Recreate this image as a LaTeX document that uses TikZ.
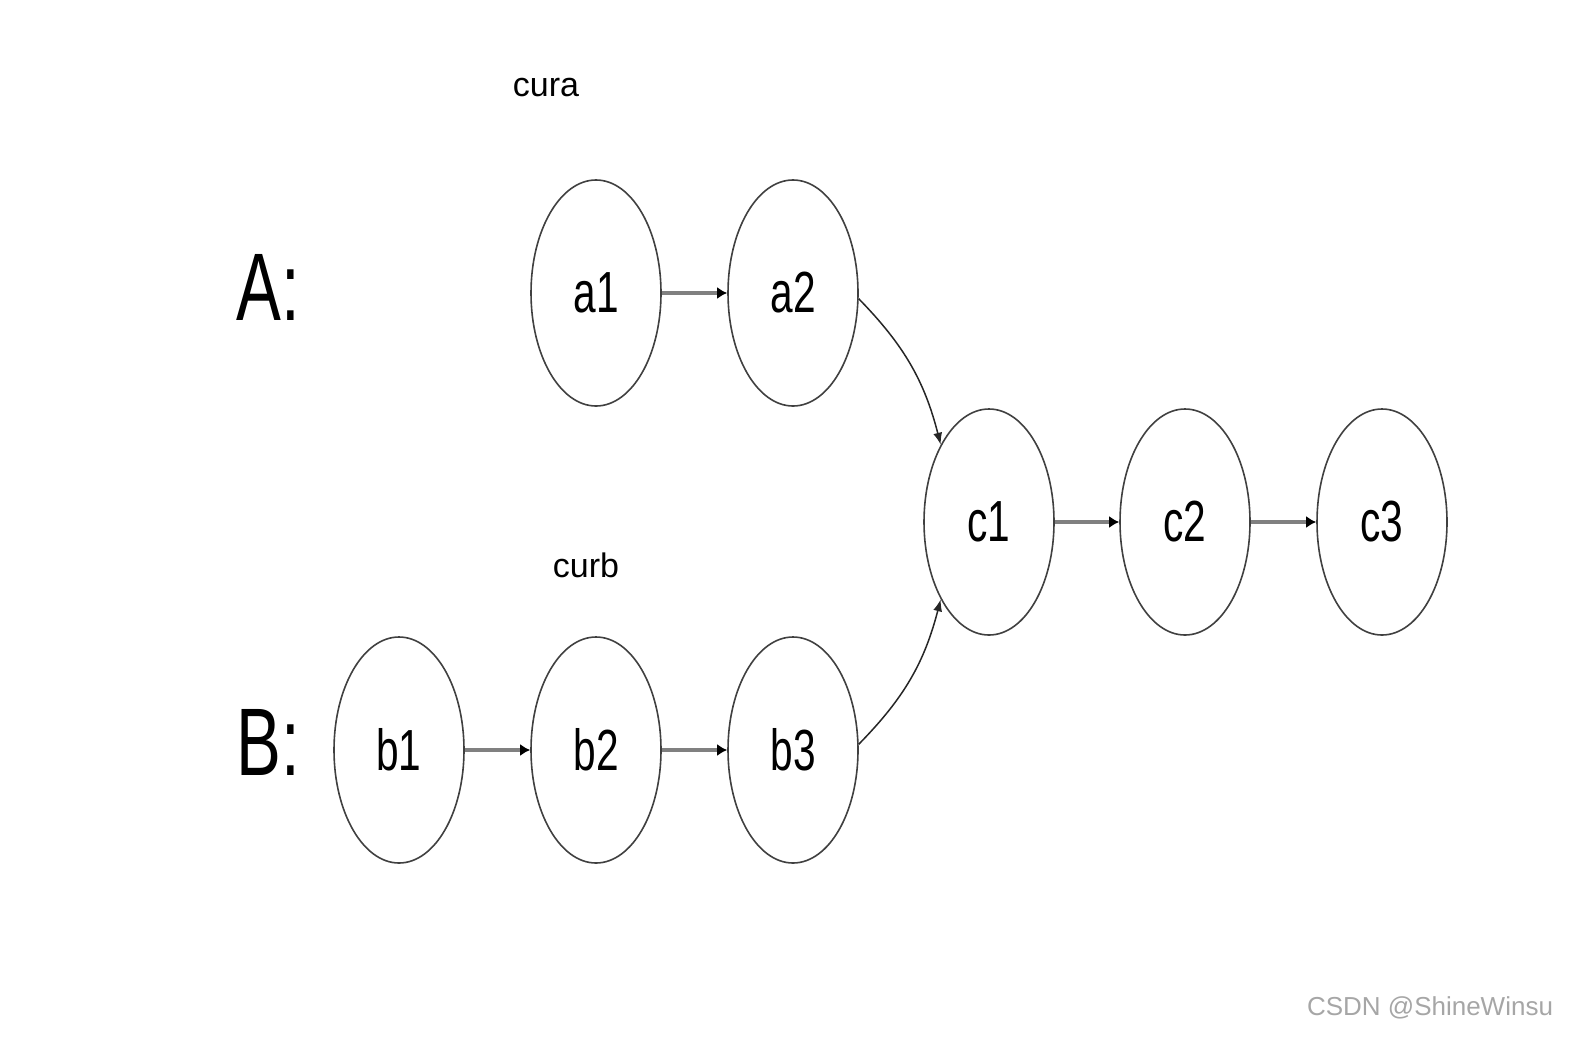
\documentclass[tikz,border=0pt]{standalone}
\usepackage{fontspec}
\setmainfont{Liberation Sans}
\usetikzlibrary{shapes.geometric,arrows.meta}
\begin{document}
\begin{tikzpicture}[x=1pt,y=-1pt,
  st/.style={ellipse,draw=black!75,line width=1.6pt,minimum width=130pt,minimum height=226pt,inner sep=0pt,
    font=\fontsize{58}{60}\selectfont,xscale=1},
  lab/.style={font=\fontsize{34}{36}\selectfont},
  big/.style={font=\fontsize{96}{96}\selectfont},
  ar/.style={draw=black!50,line width=4pt,-{Latex[length=10pt,width=12pt,black]}},
  cv/.style={draw=black!85,line width=1.5pt,-{Latex[length=12pt,width=9pt]}}]
\useasboundingbox (0,0) rectangle (1584,1047);
\node[st] (a1) at (596,293) {\scalebox{0.7}[1]{a1}};
\node[st] (a2) at (793,293) {\scalebox{0.7}[1]{a2}};
\node[st] (c1) at (989,522) {\scalebox{0.7}[1]{c1}};
\node[st] (c2) at (1185,522) {\scalebox{0.7}[1]{c2}};
\node[st] (c3) at (1382,522) {\scalebox{0.7}[1]{c3}};
\node[st] (b1) at (399,750) {\scalebox{0.7}[1]{b1}};
\node[st] (b2) at (596,750) {\scalebox{0.7}[1]{b2}};
\node[st] (b3) at (793,750) {\scalebox{0.7}[1]{b3}};
\node[big] (A) at (268,287) {\scalebox{0.7}[1]{A:}};
\node[big] (B) at (268,742) {\scalebox{0.7}[1]{B:}};
\node[lab] (cura) at (546,88) {cura};
\node[lab] (curb) at (586,565) {curb};
\node[font=\fontsize{26}{28}\selectfont,text=black!35] (wm) at (1430,1008) {CSDN @ShineWinsu};
\draw[ar] (a1) -- (a2);
\draw[ar] (b1) -- (b2);
\draw[ar] (b2) -- (b3);
\draw[ar] (c1) -- (c2);
\draw[ar] (c2) -- (c3);
\draw[cv] (a2.-5) to[bend left=15] (c1.122);
\draw[cv] (b3.5) to[bend right=15] (c1.238);
\end{tikzpicture}
\end{document}
